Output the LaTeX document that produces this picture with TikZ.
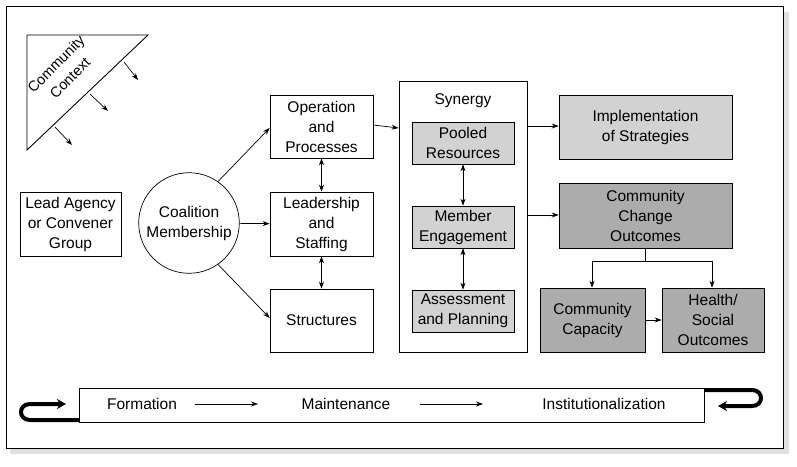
\documentclass[tikz,border=0pt]{standalone}
\usepackage{fontspec}
\setmainfont{Liberation Sans}
\usetikzlibrary{arrows.meta}
\begin{document}
\begin{tikzpicture}[x=1pt,y=-1pt,
 box/.style={draw,line width=0.7pt,align=center,font=\fontsize{15.5}{20}\selectfont,inner sep=2pt},
 ar/.style={-{Stealth[length=7pt,width=5pt]},line width=0.7pt},
 dar/.style={{Stealth[length=7pt,width=5pt]}-{Stealth[length=7pt,width=5pt]},line width=0.7pt},
 thick/.style={line width=4pt,-{Stealth[length=9pt,width=10pt]}},
 ctxt/.style={rotate=45,inner sep=0pt,font=\fontsize{14.5}{19}\selectfont},
 lt/.style={fill=gray!35},dk/.style={fill=gray!65}]
\useasboundingbox (0,0) rectangle (797,466);
\fill[gray!40,opacity=0.6] (10,12) rectangle (789,454);
\draw[fill=white,line width=0.8pt] (6,6) rectangle (783,448);
% triangle
\draw[line width=0.9pt] (27,35) -- (148,35) -- (27,150) -- cycle;
\node[ctxt] (ctx1) at (57,65) {Community};
\node[ctxt] (ctx2) at (70,78) {Context};
\coordinate (t1) at (124,62); \coordinate (t1e) at (138,80);
\coordinate (t2) at (90,94); \coordinate (t2e) at (108,111);
\coordinate (t3) at (55,127); \coordinate (t3e) at (72,145);
\draw[ar] (t1)--(t1e); \draw[ar] (t2)--(t2e); \draw[ar] (t3)--(t3e);
% nodes
\node[box,minimum width=101pt,minimum height=64pt] (lead) at (70.5,224) {Lead Agency\\or Convener\\Group};
\node[draw,circle,line width=0.7pt,minimum size=96pt,align=center,font=\fontsize{15.5}{20}\selectfont] (coal) at (189,223) {Coalition\\Membership};
\node[box,minimum width=103pt,minimum height=63pt] (op) at (321.5,126.5) {Operation\\and\\Processes};
\node[box,minimum width=103pt,minimum height=64pt] (ls) at (321.5,224) {Leadership\\and\\Staffing};
\node[box,minimum width=103pt,minimum height=63pt] (st) at (321.5,320.5) {Structures};
\node[draw,line width=0.7pt,minimum width=128pt,minimum height=271pt] (syn) at (463,216.5) {};
\node[font=\fontsize{15.5}{20}\selectfont] (synl) at (463,101) {Synergy};
\node[box,lt,minimum width=102pt,minimum height=42pt] (pool) at (463,143) {Pooled\\Resources};
\node[box,lt,minimum width=102pt,minimum height=42pt] (mem) at (463,227) {Member\\Engagement};
\node[box,lt,minimum width=102pt,minimum height=42pt] (ass) at (463,311) {Assessment\\and Planning};
\node[box,lt,minimum width=173pt,minimum height=64pt] (impl) at (645.5,127) {Implementation\\of Strategies};
\node[box,dk,minimum width=173pt,minimum height=65pt] (ccho) at (645.5,215.5) {Community\\Change\\Outcomes};
\node[box,dk,minimum width=105pt,minimum height=64pt] (cap) at (592.5,320) {Community\\Capacity};
\node[box,dk,minimum width=102pt,minimum height=64pt] (hso) at (713,320) {Health/\\Social\\Outcomes};
% arrows
\draw[ar] (coal.55)--(op.west|-0,128);
\draw[ar] (coal)--(ls);
\draw[ar] (coal.-55)--(st.west|-0,318);
\draw[dar] (op)--(ls); \draw[dar] (ls)--(st);
\draw[dar] (pool)--(mem); \draw[dar] (mem)--(ass);
\draw[ar] (op.east|-0,125)--(syn.west|-0,128);
\draw[ar] (syn.east|-0,126)--(impl.west|-0,126);
\draw[ar] (syn.east|-0,215)--(ccho.west|-0,215);
\coordinate (br) at (645,261);
\draw[line width=0.7pt] (ccho.south-|br)--(br);
\draw[ar] (br)-|(cap.north-|592,0);
\draw[ar] (br)-|(hso.north-|712,0);
\draw[ar] (cap)--(hso);
% bottom band
\node[draw,line width=0.7pt,minimum width=625pt,minimum height=34pt] (band) at (391.5,405) {};
\node[font=\fontsize{15.5}{20}\selectfont] (f) at (142,404) {Formation};
\node[font=\fontsize{15.5}{20}\selectfont] (m) at (346,404) {Maintenance};
\node[font=\fontsize{15.5}{20}\selectfont] (i) at (604,404) {Institutionalization};
\coordinate (fa) at (195,404); \coordinate (fb) at (258,404);
\coordinate (ma) at (420,404); \coordinate (mb) at (483,404);
\draw[ar] (fa)--(fb);
\draw[ar] (ma)--(mb);
\coordinate (lb) at (79,420); \coordinate (le) at (66,404);
\coordinate (rb) at (704,390); \coordinate (re) at (718,406);
\draw[thick] (lb) -- (30,420) .. controls (18,420) and (18,404) .. (30,404) -- (le);
\draw[thick] (rb) -- (752,390) .. controls (764,390) and (764,406) .. (752,406) -- (re);
\end{tikzpicture}
\end{document}
